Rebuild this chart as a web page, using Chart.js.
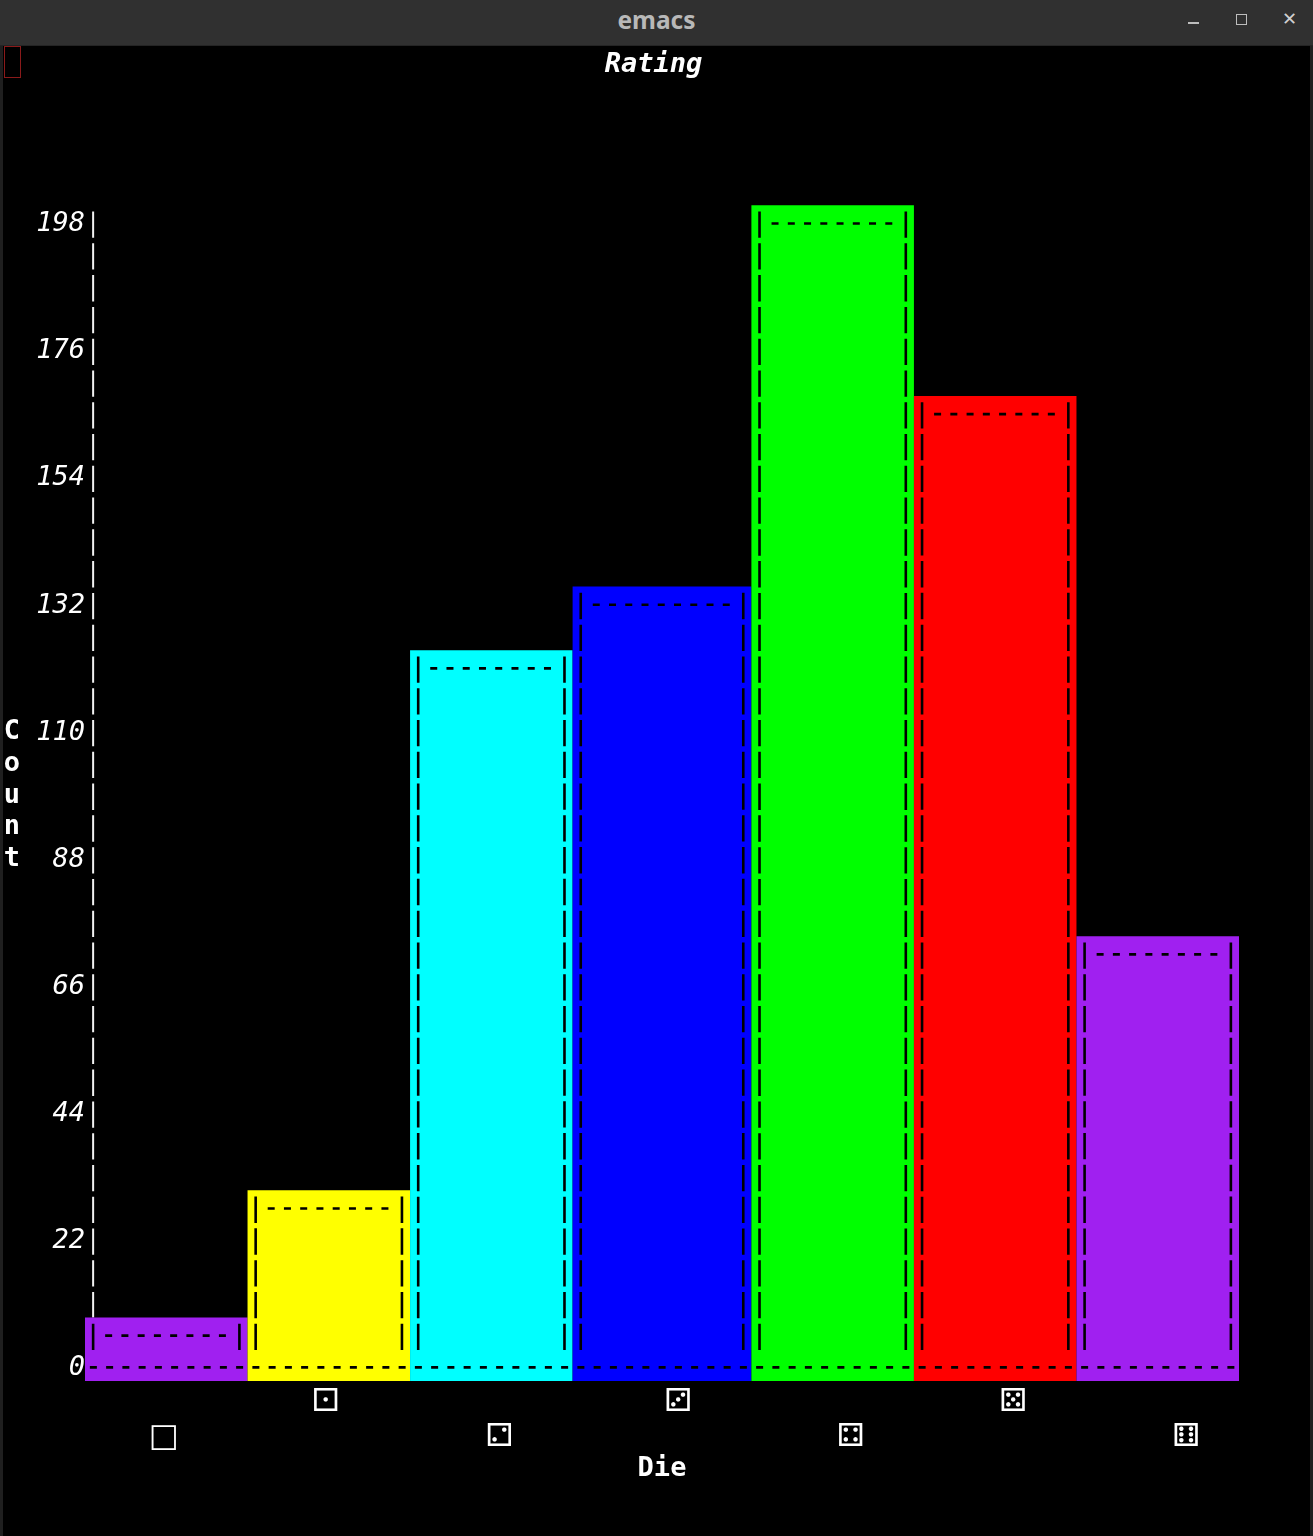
<!DOCTYPE html>
<html>
<head>
<meta charset="utf-8">
<title>Rating</title>
<script src="https://cdn.jsdelivr.net/npm/chart.js@4"></script>
<style>
  html,body{margin:0;padding:0;background:#000;overflow:hidden;width:1313px;height:1536px;}
  #bar{position:absolute;left:0;top:0;width:1313px;height:45px;background:#303030;border-bottom:1px solid #242424;}
  #bar .name{position:absolute;left:0;width:1313px;top:3px;text-align:center;color:#b8b8b8;font:bold 24.5px "Noto Sans",sans-serif;}
  #min{position:absolute;left:1188px;top:22px;width:11px;height:1.5px;background:#bdbdbd;}
  #max{position:absolute;left:1236px;top:14px;width:9px;height:9px;border:1.5px solid #bdbdbd;}
  #close{position:absolute;left:1282px;top:8px;color:#cfcfcf;font:18px "DejaVu Sans",sans-serif;}
  .edge{position:absolute;top:46px;width:3px;height:1490px;background:#1f1f1f;}
  #cursor{position:absolute;left:4px;top:46px;width:15px;height:30px;border:1.5px solid #8a1a1a;}
  canvas{position:absolute;left:0;top:46px;}
</style>
</head>
<body>
<div id="bar"><div class="name">emacs</div><div id="min"></div><div id="max"></div><div id="close">✕</div></div>
<div class="edge" style="left:0"></div><div class="edge" style="left:1310px"></div>
<div id="cursor"></div>
<canvas id="c" width="1313" height="1490"></canvas>
<script>
// Chart text
const chartTitle = 'Rating';
const xTitle = 'Die';
const yTitleLetters = ['C', 'o', 'u', 'n', 't'];

// Series: one value per die face, read in the 5.5-per-row steps of the text plot
const faces = ['□', '⚀', '⚁', '⚂', '⚃', '⚄', '⚅'];
const counts = [5.5, 27.5, 121, 132, 198, 165, 71.5];
const barColors = ['#a020f0', '#ffff00', '#00ffff', '#0000ff', '#00ff00', '#ff0000', '#a020f0'];

// Axes, in text-plot units: x in character columns, y in counts
const columnEdges = [0, 10, 20, 30, 41, 51, 61, 71];
const faceColumns = [4.86, 14.8, 25.5, 36.5, 47.1, 57.1, 67.75];
const faceLabelRows = [1, 0, 1, 0, 1, 0, 1];
const yTicks = [0, 22, 44, 66, 88, 110, 132, 154, 176, 198];
const rowHalf = 2.75;

// Bars span their own columns (the blue one is a column wider than the rest)
Chart.BarController.prototype._calculateBarIndexPixels = function (index) {
  const scale = this._cachedMeta.iScale;
  const head = scale.getPixelForValue(columnEdges[index]);
  const end = scale.getPixelForValue(columnEdges[index + 1]);
  return { base: head, head, center: (head + end) / 2, size: end - head, ratio: 1 };
};

const barData = counts.map((v, i) => ({
  x: (columnEdges[i] + columnEdges[i + 1]) / 2,
  y: [-rowHalf, v + rowHalf]
}));

// Dashed character outlines inside each bar, through the same scales
const gap = { x: NaN, y: NaN };
const pipeTop = 1.67, pipeBottom = 2.6, hyphenDrop = 0.4;
const verticals = [], horizontals = [];
counts.forEach((v, i) => {
  const l = columnEdges[i], r = columnEdges[i + 1];
  verticals.push({ x: l + 0.5, y: v + pipeTop }, { x: l + 0.5, y: pipeBottom }, gap,
                 { x: r - 0.5, y: v + pipeTop }, { x: r - 0.5, y: pipeBottom }, gap);
  horizontals.push({ x: l + 1.24, y: v - hyphenDrop }, { x: r - 1.24, y: v - hyphenDrop }, gap);
});
const baselineDashes = [{ x: 0.3, y: -hyphenDrop }, { x: 71, y: -hyphenDrop }];
const axisDashes = [{ x: 0.5, y: 198 + pipeTop }, { x: 0.5, y: counts[0] + rowHalf }];

const lineDefaults = { type: 'line', pointRadius: 0, tension: 0, fill: false, clip: false };
const stackedLabel = {
  id: 'stackedLabel',
  afterDraw(chart) {
    const { ctx } = chart;
    ctx.save();
    ctx.fillStyle = '#fff';
    ctx.font = 'bold 27px "DejaVu Sans Mono"';
    ctx.textAlign = 'center';
    ctx.textBaseline = 'middle';
    yTitleLetters.forEach((ch, i) => ctx.fillText(ch, 12, 686 + i * 31.8));
    ctx.restore();
  }
};

new Chart(document.getElementById('c'), {
  type: 'bar',
  data: {
    datasets: [
      { ...lineDefaults, label: 'Hyphens', order: 1, data: horizontals, borderColor: '#000', borderWidth: 2.6, borderDash: [7, 9.25] },
      { ...lineDefaults, label: 'Baseline', order: 1, data: baselineDashes, borderColor: '#000', borderWidth: 2.6, borderDash: [7, 9.25] },
      { ...lineDefaults, label: 'Pipes', order: 1, data: verticals, borderColor: '#000', borderWidth: 2.6, borderDash: [26.3, 5.48] },
      { label: 'Count', order: 2, data: barData, backgroundColor: barColors, borderWidth: 0, clip: false },
      { ...lineDefaults, label: 'Axis', order: 3, data: axisDashes, borderColor: '#f2f2f2', borderWidth: 2, borderDash: [26.3, 5.48] }
    ]
  },
  options: {
    responsive: false,
    animation: false,
    devicePixelRatio: 1,
    layout: { padding: { top: 3, right: 6, bottom: 0, left: 0 } },
    plugins: {
      legend: { display: false },
      tooltip: { enabled: false },
      title: {
        display: true,
        text: chartTitle,
        color: '#fff',
        font: { family: '"DejaVu Sans Mono"', size: 27, weight: 'bold', style: 'italic', lineHeight: 1.2 },
        padding: { top: 0, bottom: 123.9 }
      }
    },
    scales: {
      x: {
        type: 'linear',
        min: 0,
        max: 71,
        offset: false,
        grid: { display: false, drawTicks: false },
        border: { display: false },
        afterFit(scale) { scale.height = 155; },
        afterBuildTicks(scale) { scale.ticks = faceColumns.map(value => ({ value })); },
        ticks: {
          autoSkip: false,
          maxRotation: 0,
          minRotation: 0,
          padding: 4,
          color: '#fff',
          font: { family: '"DejaVu Sans"', size: 32, lineHeight: 1.094 },
          callback(value, index) {
            return faceLabelRows[index] ? ['', faces[index]] : [faces[index], ''];
          }
        },
        title: {
          display: true,
          text: xTitle,
          color: '#fff',
          font: { family: '"DejaVu Sans Mono"', size: 27, weight: 'bold', lineHeight: 1.2 },
          padding: { top: 0, bottom: 51 }
        }
      },
      y: {
        type: 'linear',
        min: -rowHalf,
        max: 198 + rowHalf,
        grid: { display: false, drawTicks: false },
        border: { display: false },
        afterFit(scale) { scale.width = 85; },
        afterBuildTicks(scale) { scale.ticks = yTicks.map(value => ({ value })); },
        ticks: {
          autoSkip: false,
          padding: 0,
          labelOffset: 3,
          color: '#fff',
          font: { family: '"DejaVu Sans Mono"', size: 27, style: 'italic' }
        }
      },
      // Empty right margin: the title centres on the whole width, left of the plot's own centre
      margin: {
        type: 'linear',
        position: 'right',
        grid: { display: false, drawTicks: false },
        border: { display: false },
        ticks: { display: false },
        afterFit(scale) { scale.width = 68; }
      }
    }
  },
  plugins: [stackedLabel]
});
</script>
</body>
</html>
